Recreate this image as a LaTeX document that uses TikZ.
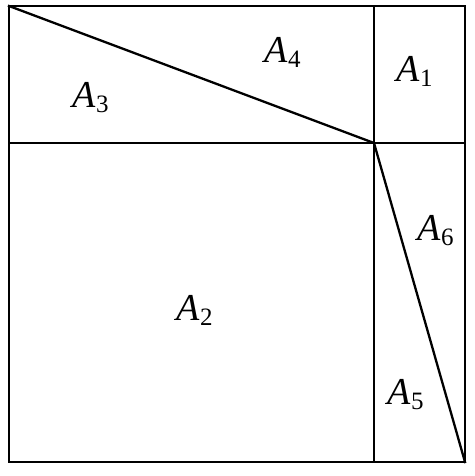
\documentclass[tikz,border=0pt]{standalone}
\usepackage{fontspec}
\setmainfont{Liberation Serif}
\newcommand{\lab}[1]{{\fontsize{38}{38}\selectfont\itshape A}\kern1pt\raisebox{-5pt}{\fontsize{25}{25}\selectfont #1}}
\tikzset{
  edge/.style={line width=2.3pt, line cap=rect, line join=miter},
  lbl/.style={anchor=base west, inner sep=0pt, outer sep=0pt}
}
\begin{document}
\begin{tikzpicture}[x=1pt,y=-1pt]
\useasboundingbox (0,0) rectangle (474,476);
\coordinate (TL) at (9,6);
\coordinate (TR) at (465,6);
\coordinate (BR) at (465,462);
\coordinate (BL) at (9,462);
\coordinate (VT) at (374,6);
\coordinate (VB) at (374,462);
\coordinate (HL) at (9,143);
\coordinate (HR) at (465,143);
\coordinate (C) at (374,143);
\draw[edge] (TL) -- (TR) -- (BR) -- (BL) -- cycle;
\draw[edge] (VT) -- (VB);
\draw[edge] (HL) -- (HR);
\draw[edge] (TL) -- (C) -- (BR);
\node[lbl] (a4) at (264,63) {\lab{4}};
\node[lbl] (a1) at (396,82) {\lab{1}};
\node[lbl] (a3) at (72,108) {\lab{3}};
\node[lbl] (a2) at (176,320) {\lab{2}};
\node[lbl] (a6) at (417,240) {\lab{6}};
\node[lbl] (a5) at (387,404) {\lab{5}};
\end{tikzpicture}
\end{document}
